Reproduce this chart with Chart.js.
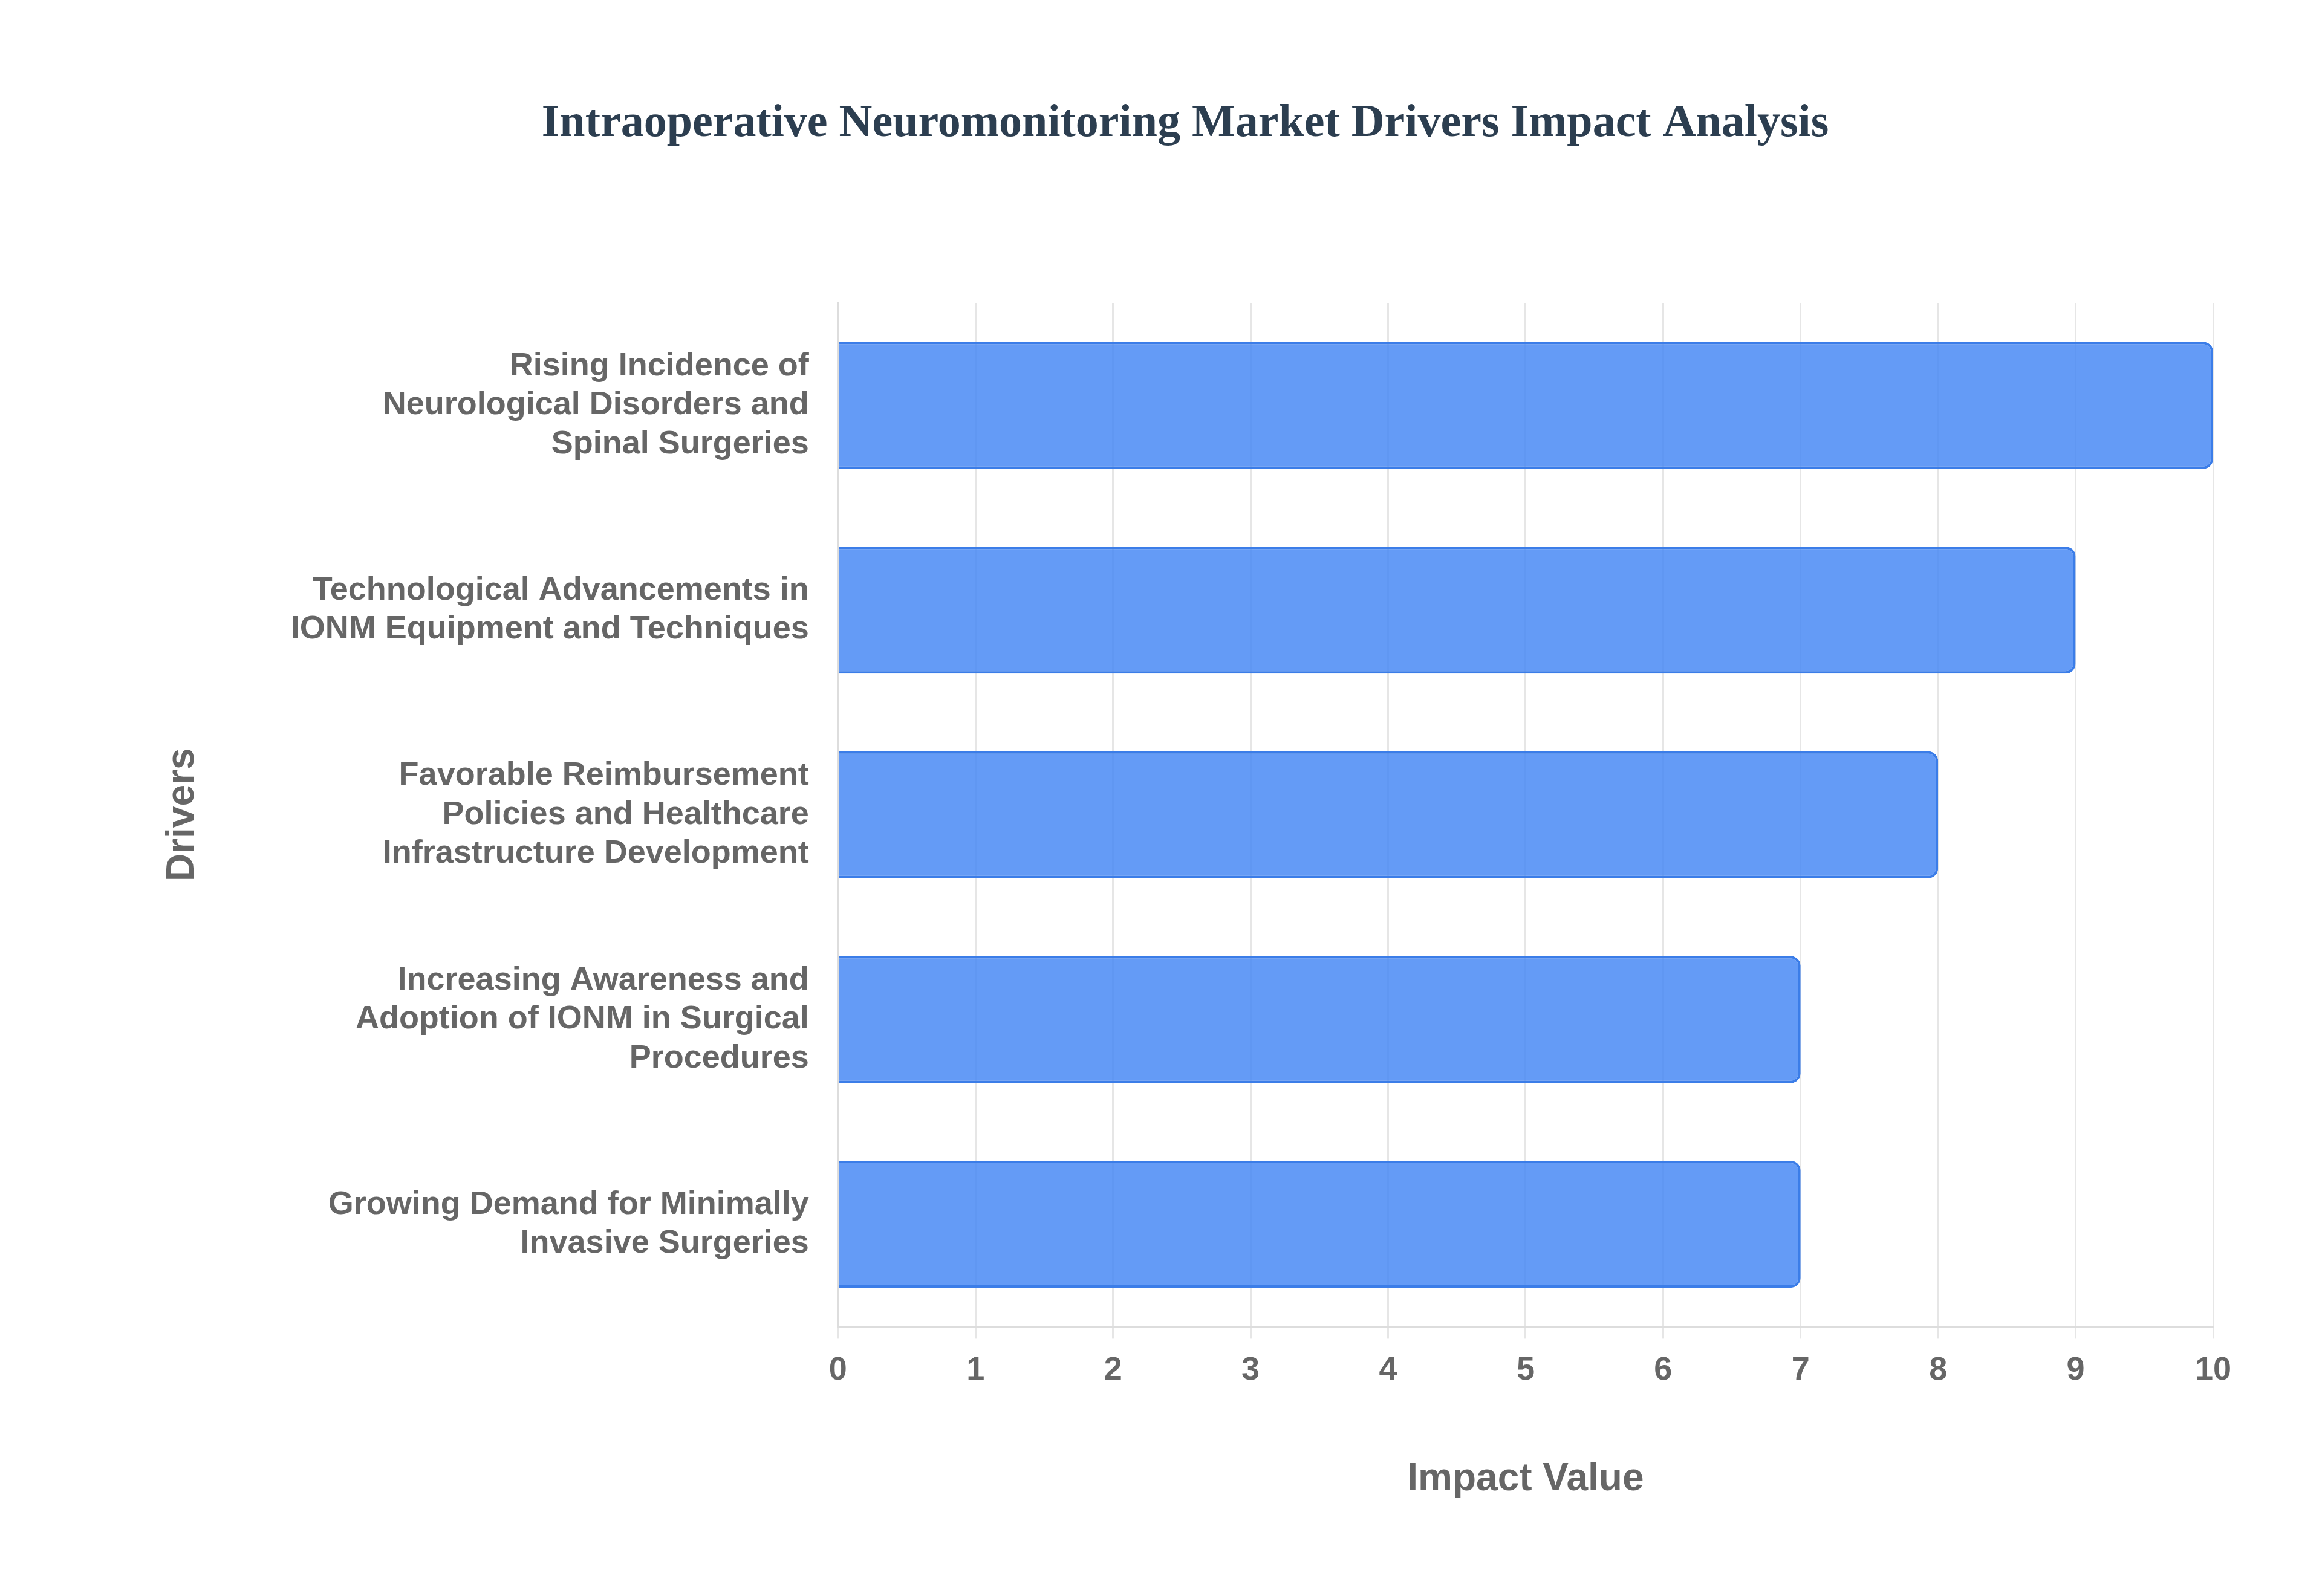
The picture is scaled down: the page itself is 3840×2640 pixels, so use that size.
<!DOCTYPE html>
<html>
<head>
<meta charset="utf-8">
<script src="https://cdn.jsdelivr.net/npm/chart.js@4/dist/chart.umd.min.js"></script>
<style>
  html, body { margin: 0; padding: 0; background: #fff; }
  #wrap { width: 3840px; height: 2640px; }
</style>
</head>
<body>
<div id="wrap"><canvas id="myChart" width="3840" height="2640"></canvas></div>
<script>
// chart data
var drivers = [
  ["Rising Incidence of", "Neurological Disorders and", "Spinal Surgeries"],
  ["Technological Advancements in", "IONM Equipment and Techniques"],
  ["Favorable Reimbursement", "Policies and Healthcare", "Infrastructure Development"],
  ["Increasing Awareness and", "Adoption of IONM in Surgical", "Procedures"],
  ["Growing Demand for Minimally", "Invasive Surgeries"]
];
var impactValues = [10, 9, 8, 7, 7];
var xTicks = [0, 1, 2, 3, 4, 5, 6, 7, 8, 9, 10];

Chart.defaults.font.family = "'Liberation Sans', Arial, sans-serif";

new Chart(document.getElementById("myChart"), {
  type: 'bar',
  data: {
    labels: drivers,
    datasets: [{
      label: "Impact Value",
      data: impactValues,
      backgroundColor: 'rgba(66, 133, 244, 0.82)',
      borderColor: '#3b7de8',
      borderWidth: 4,
      borderRadius: 16,
      borderSkipped: 'start',
      categoryPercentage: 0.62,
      barPercentage: 1
    }]
  },
  options: {
    indexAxis: 'y',
    responsive: false,
    animation: false,
    layout: { padding: { left: 260, right: 180, top: 60, bottom: 150 } },
    plugins: {
      legend: { display: false },
      tooltip: { enabled: false },
      title: {
        display: true,
        text: 'Intraoperative Neuromonitoring Market Drivers Impact Analysis',
        color: '#2c3e50',
        font: { family: "'Liberation Serif', 'Times New Roman', serif", size: 76, weight: 'bold' },
        padding: { top: 100, bottom: 250 }
      }
    },
    scales: {
      x: {
        min: 0,
        max: 10,
        afterBuildTicks: function(axis) { axis.ticks = xTicks.map(function(v) { return { value: v }; }); },
        grid: { color: '#e6e6e6', lineWidth: 3, tickLength: 20 },
        border: { color: '#dddddd', width: 3 },
        ticks: { color: '#666', font: { size: 54, weight: 'bold' }, padding: 20 },
        title: { display: true, text: 'Impact Value', color: '#666', font: { size: 64, weight: 'bold' }, padding: { top: 90 } }
      },
      y: {
        grid: { display: false },
        border: { color: '#dddddd', width: 3 },
        ticks: { color: '#666', font: { size: 54, weight: 'bold' }, padding: 40, lineHeight: 1.45 },
        title: { display: true, text: 'Drivers', color: '#666', font: { size: 64, weight: 'bold' }, padding: { bottom: 100 } }
      }
    }
  }
});
</script>
</body>
</html>
